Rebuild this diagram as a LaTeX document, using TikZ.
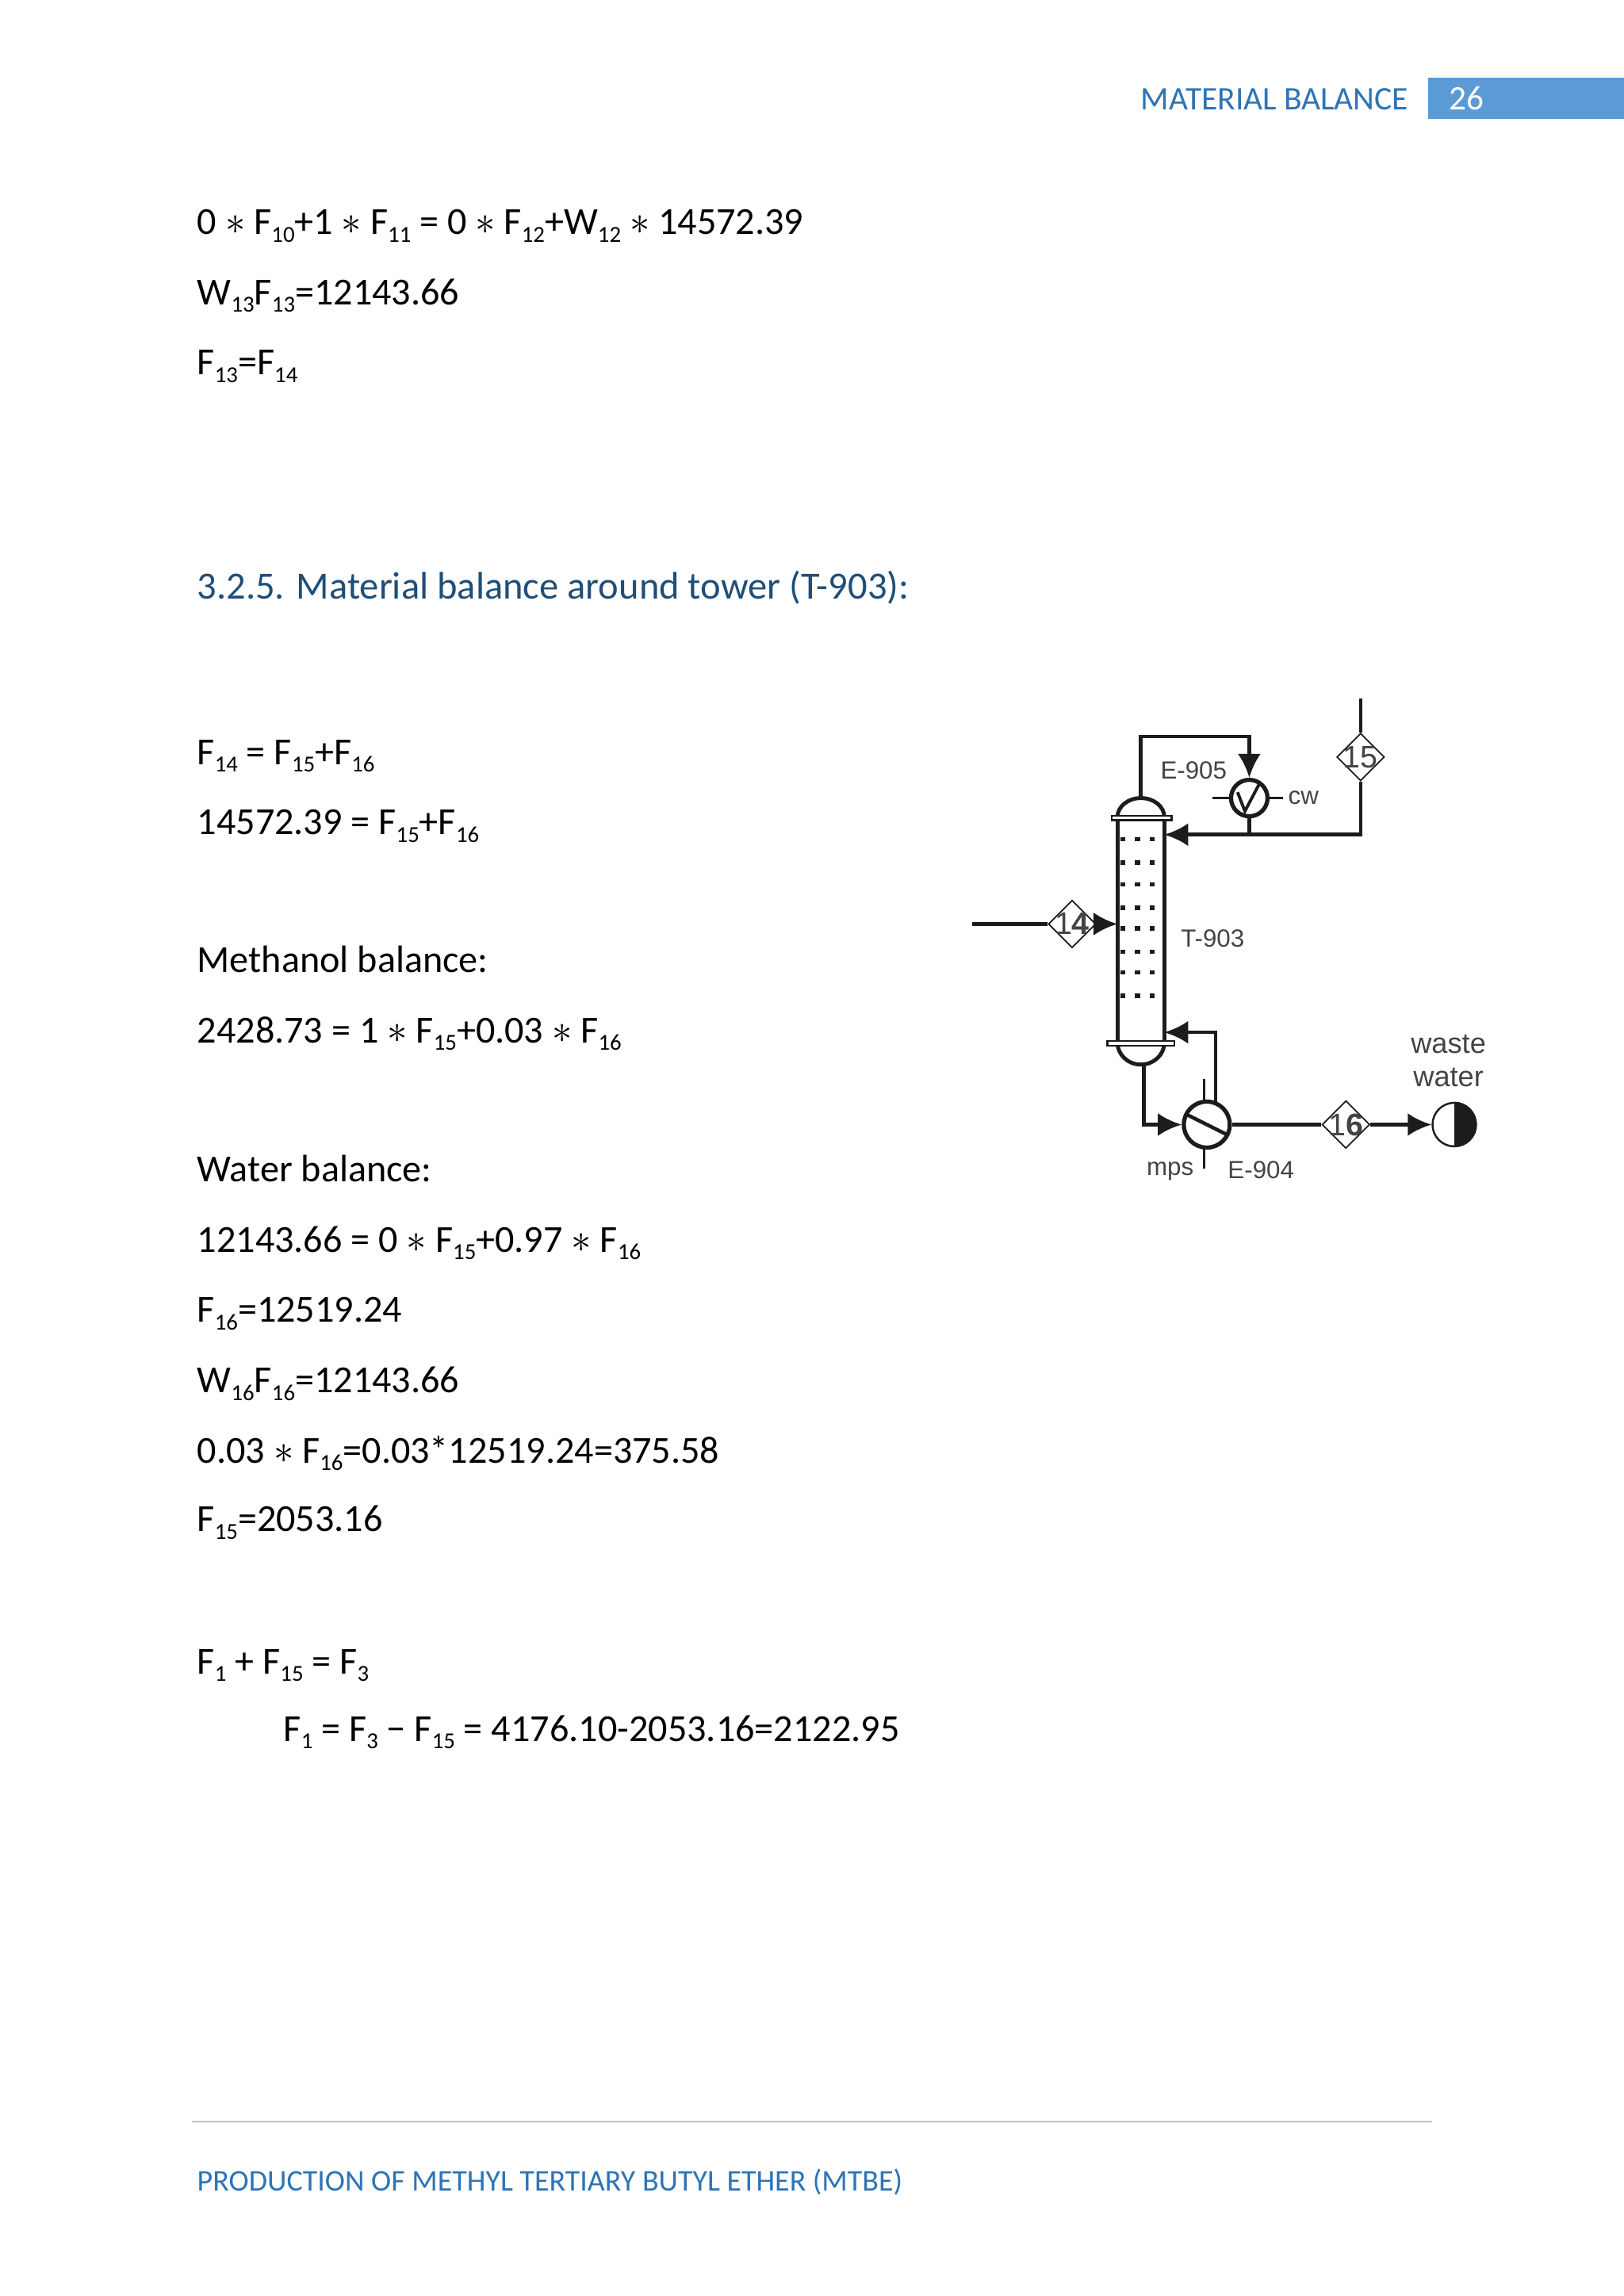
\documentclass[tikz,border=0pt]{standalone}
\usepackage{fontspec}
\setmainfont{Carlito}
\newfontfamily\plantfont{Liberation Sans}
\usetikzlibrary{arrows.meta}
\usetikzlibrary{shapes.geometric}
\definecolor{headblue}{HTML}{2E74B5}
\definecolor{boxblue}{HTML}{5B9BD5}
\definecolor{titleblue}{HTML}{1F4E79}
\definecolor{plantink}{HTML}{1C1C1C}
\definecolor{plantgray}{HTML}{444444}
\newcommand{\trayrow}[1] % y of the tray
{
	\fill[plantink] (765,#1-1.5) rectangle (768.5,#1+1.5);
	\fill[plantink] (775,#1-1.5) rectangle (778.5,#1+1.5);
	\fill[plantink] (785,#1-1.5) rectangle (788.5,#1+1.5);
}
\newcommand{\subnum}[1]{\raisebox{-0.42ex}{\fontsize{8.2}{9}\selectfont #1}}
\newcommand{\Fs}[1]{F\subnum{#1}}
\newcommand{\Ws}[1]{W\subnum{#1}}
\tikzset{
	bodyline/.style={anchor=base west, inner sep=0pt, font=\fontsize{13.7}{16}\selectfont, text=black},
	stream/.style={draw=plantink, shape=diamond, line width=0.5pt, minimum width=0.6cm, minimum height=0.6cm, inner sep=-3pt, font=\plantfont\fontsize{11.2}{12}\selectfont, text=plantgray},
	exchanger/.style={draw=plantink, shape=circle, line width=1.5pt, minimum size=0.46cm, inner sep=0pt},
	plantlabel/.style={inner sep=0pt, font=\plantfont\fontsize{8.9}{10}\selectfont, text=plantgray},
	pipe/.style={draw=plantink, line width=1.3pt},
	feed/.style={pipe, -{Latex[length=0.3cm,width=0.29cm]}}
}
\begin{document}
\begin{tikzpicture}[x=0.01847cm, y=-0.01847cm]
	% page 2048 x 2896, coordinates on the 1109 x 1568 view
	\path[use as bounding box, fill=white] (0,0) rectangle (1108.86,1568);
	% header
	\fill[boxblue] (975,53) rectangle (1108.86,81);
	\node[anchor=base east, inner sep=0pt, text=headblue, font=\fontsize{11.8}{15}\selectfont] (headtext) at (962,75) {MATERIAL BALANCE};
	\node[anchor=base west, inner sep=0pt, text=white, font=\fontsize{12.3}{15}\selectfont] (pagenum) at (989,75) {26};
	% text above the heading
	\node[bodyline] (l1) at (134.3,160) {0 $*$ \Fs{10}+1 $*$ \Fs{11} = 0 $*$ \Fs{12}+\Ws{12} $*$ 14572.39};
	\node[bodyline] (l2) at (134.3,208) {\Ws{13}\Fs{13}=12143.66};
	\node[bodyline] (l3) at (134.3,256) {\Fs{13}=\Fs{14}};
	\node[bodyline, text=titleblue, font=\fontsize{13.8}{16}\selectfont] (title) at (134.3,409) {3.2.5. Material balance around tower (T-903):};
	% balances
	\node[bodyline] (l4) at (134.3,522) {\Fs{14} = \Fs{15}+\Fs{16}};
	\node[bodyline] (l5) at (134.3,570) {14572.39 = \Fs{15}+\Fs{16}};
	\node[bodyline] (l6) at (134.3,664) {Methanol balance:};
	\node[bodyline] (l7) at (134.3,712) {2428.73 = 1 $*$ \Fs{15}+0.03 $*$ \Fs{16}};
	\node[bodyline] (l8) at (134.3,807) {Water balance:};
	\node[bodyline] (l9) at (134.3,855) {12143.66 = 0 $*$ \Fs{15}+0.97 $*$ \Fs{16}};
	\node[bodyline] (l10) at (134.3,903) {\Fs{16}=12519.24};
	\node[bodyline] (l11) at (134.3,951) {\Ws{16}\Fs{16}=12143.66};
	\node[bodyline] (l12) at (134.3,999) {0.03 $*$ \Fs{16}=0.03*12519.24=375.58};
	\node[bodyline] (l13) at (134.3,1046) {\Fs{15}=2053.16};
	\node[bodyline] (l14) at (134.3,1143) {\Fs{1} + \Fs{15} = \Fs{3}};
	\node[bodyline] (l15) at (193.3,1189) {\Fs{1} = \Fs{3} − \Fs{15} = 4176.10-2053.16=2122.95};
	% footer
	\draw[color=black!25, line width=0.6pt] (131,1449) -- (978,1449);
	\node[anchor=base west, inner sep=0pt, text=headblue, font=\fontsize{10.8}{15}\selectfont] (foottext) at (134.3,1496) {PRODUCTION OF METHYL TERTIARY BUTYL ETHER (MTBE)};
	% tower
	\node[draw=plantink, line width=1.4pt, minimum width=0.59cm, minimum height=2.84cm, inner sep=0pt] (tower) at (779,635) {};
	\draw[draw=plantink, line width=1.4pt] (763,558) arc (180:360:16 and 13);
	\draw[draw=plantink, line width=1.4pt] (763,712) arc (180:0:16 and 15);
	\draw[draw=plantink, fill=white, line width=0.7pt] (759,557) rectangle (800,560);
	\draw[draw=plantink, fill=white, line width=0.7pt] (756,711) rectangle (802,714);
	\coordinate (towertop) at (779,545);
	\coordinate (towerbot) at (781,727);
	\trayrow{573}
	\trayrow{589}
	\trayrow{604}
	\trayrow{620}
	\trayrow{634}
	\trayrow{650}
	\trayrow{664}
	\trayrow{680}
	% exchangers
	\node[exchanger] (cond) at (853,545) {};
	\node[exchanger, minimum size=0.58cm] (reb) at (824,768) {};
	\draw[draw=plantink, line width=1.1pt] (845,541) -- (850,554) -- (860,535);
	\draw[draw=plantink, line width=1.3pt] (810,761) -- (838,775);
	\draw[draw=plantink, line width=0.9pt] (828,545) -- (cond.west);
	\draw[draw=plantink, line width=0.9pt] (cond.east) -- (876,545);
	\draw[draw=plantink, line width=0.9pt] (822,737) -- (822,753);
	\draw[draw=plantink, line width=0.9pt] (822,783) -- (822,798);
	% stream numbers
	\node[stream] (s14) at (732,631) {1{\bfseries 4}};
	\node[stream] (s15) at (929,517) {15};
	\node[stream] (s16) at (919,768) {1{\bfseries 6}};
	% waste water symbol
	\node[draw=plantink, shape=circle, line width=0.7pt, minimum size=0.55cm, inner sep=0pt] (sink) at (993,768) {};
	\fill[plantink] (sink.north) arc (-90:90:15) -- cycle;
	% pipes
	\coordinate (feedin) at (664,631);
	\coordinate (feedtray) at (763,631);
	\coordinate (topbend) at (853,503);
	\coordinate (refluxin) at (795,570);
	\coordinate (refluxtee) at (853,570);
	\coordinate (distout) at (929,477);
	\coordinate (bottomin) at (795,705);
	\coordinate (rebtop) at (830,754);
	\draw[pipe] (feedin) -- (s14.west);
	\draw[feed] (s14.east) -- (feedtray);
	\draw[feed] (towertop) |- (topbend) -- (cond.north);
	\draw[pipe] (cond.south) -- (refluxtee);
	\draw[pipe] (distout) -- (s15.north);
	\draw[feed] (s15.south) |- (refluxin);
	\draw[feed] (towerbot) |- (reb.west);
	\draw[feed] (rebtop) |- (bottomin);
	\draw[pipe] (reb.east) -- (s16.west);
	\draw[feed] (s16.east) -- (sink.west);
	% labels
	\node[plantlabel] (e905) at (815,526) {E-905};
	\node[plantlabel] (cwlabel) at (890,545) {cw};
	\node[plantlabel] (t903) at (828,641) {T-903};
	\node[plantlabel] (mps) at (799,800) {mps};
	\node[plantlabel] (e904) at (861,799) {E-904};
	\node[plantlabel, font=\plantfont\fontsize{10.3}{11}\selectfont] (waste) at (989,713) {waste};
	\node[plantlabel, font=\plantfont\fontsize{10.3}{11}\selectfont] (water) at (989,736) {water};
\end{tikzpicture}
\end{document}
